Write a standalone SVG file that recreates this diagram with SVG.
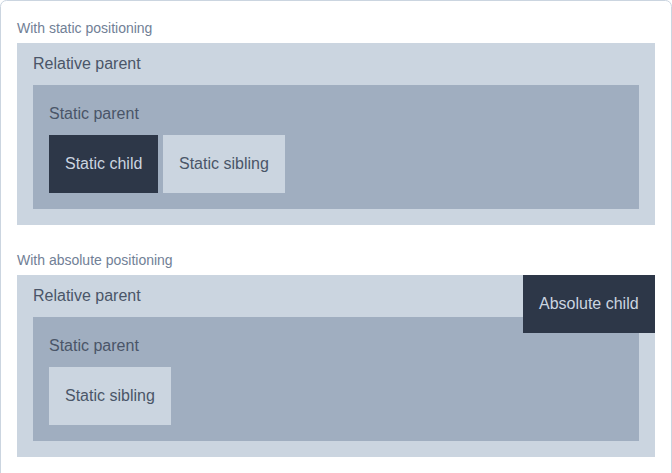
<svg xmlns="http://www.w3.org/2000/svg" width="672" height="473" viewBox="0 0 672 473">
<style>
text{font-family:"Liberation Sans",Arial,sans-serif}
.cap{font-size:14px;fill:#718096}
.t{font-size:16px;fill:#4a5568}
.td{font-size:16px;fill:#cbd5e0}
.rel{fill:#cbd5e0}
.sp{fill:#a0aec0}
.dk{fill:#2d3748}
</style>
<rect x="0.5" y="0.5" width="671" height="490" rx="6" fill="#fff" stroke="#cbd5e0"/>
<g id="section1">
<text class="cap" x="17" y="33">With static positioning</text>
<g id="rel1"><rect class="rel" x="17" y="43" width="638" height="182"/><text class="t" x="33" y="69">Relative parent</text></g>
<g id="sp1"><rect class="sp" x="33" y="85" width="606" height="124"/><text class="t" x="49" y="119">Static parent</text></g>
<g id="child1"><rect class="dk" x="49" y="135" width="109" height="58"/><text class="td" x="65" y="169">Static child</text></g>
<g id="sib1"><rect class="rel" x="163" y="135" width="122" height="58"/><text class="t" x="179" y="169">Static sibling</text></g>
</g>
<g id="section2">
<text class="cap" x="17" y="265">With absolute positioning</text>
<g id="rel2"><rect class="rel" x="17" y="275" width="638" height="182"/><text class="t" x="33" y="301">Relative parent</text></g>
<g id="sp2"><rect class="sp" x="33" y="317" width="606" height="124"/><text class="t" x="49" y="351">Static parent</text></g>
<g id="sib2"><rect class="rel" x="49" y="367" width="122" height="58"/><text class="t" x="65" y="401">Static sibling</text></g>
<g id="abs"><rect class="dk" x="523" y="275" width="132" height="58"/><text class="td" x="539" y="309">Absolute child</text></g>
</g>
<g id="connectors"/>
</svg>
